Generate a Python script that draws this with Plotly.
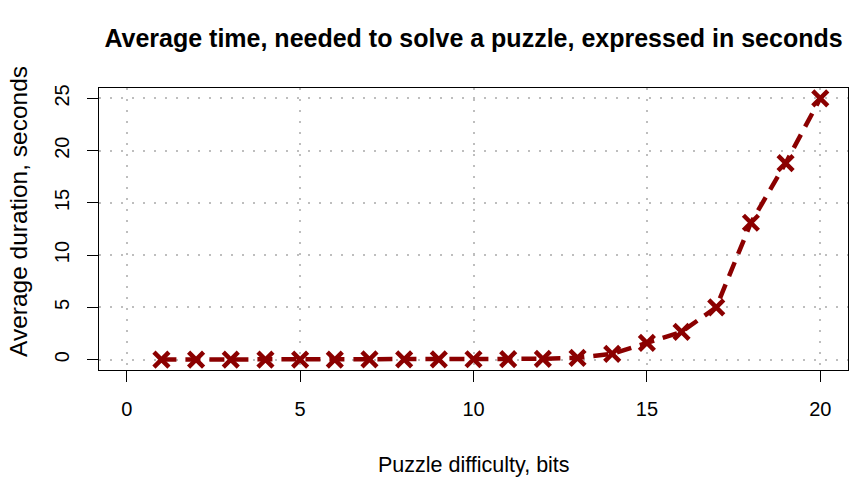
import plotly.graph_objects as go

difficulty_bits = list(range(1, 21))
avg_seconds = [0.0, 0.0, 0.0, 0.0, 0.0, 0.0, 0.01, 0.01, 0.02, 0.03,
               0.04, 0.07, 0.16, 0.55, 1.6, 2.65, 5.0, 13.1, 18.8, 25.0]
x_ticks = [0, 5, 10, 15, 20]
y_ticks = [0, 5, 10, 15, 20, 25]

title_text = "Average time, needed to solve a puzzle, expressed in seconds"
x_title = "Puzzle difficulty, bits"
y_title = "Average duration, seconds"

col = "#8B0000"
font = "Liberation Sans, Arial, Helvetica, sans-serif"

# plot area in pixels
L, R, T, B = 99, 848, 88, 370
W, H = 850, 500
pw, ph = R - L, B - T

fig = go.Figure()
fig.add_trace(go.Scatter(
    x=difficulty_bits, y=avg_seconds, mode="lines+markers",
    line=dict(color=col, width=4.5, dash="15px,9px"),
    marker=dict(symbol="x-thin", size=15, color=col,
                line=dict(color=col, width=4.5)),
    showlegend=False, cliponaxis=False,
))

axis_common = dict(
    showline=True, linecolor="black", linewidth=1.2, mirror=True,
    ticks="outside", ticklen=11, tickwidth=1.2, tickcolor="black",
    showgrid=True, gridcolor="#BEBEBE", gridwidth=2, griddash="2px,9px",
    zeroline=False, automargin=False,
    tickfont=dict(family=font, size=20, color="black"),
)

fig.update_layout(
    width=W, height=H,
    margin=dict(l=L, r=W - R, t=T, b=H - B, autoexpand=False),
    paper_bgcolor="white", plot_bgcolor="white",
    font=dict(family=font, color="black"),
    title=dict(text="<b>" + title_text + "</b>", x=0.5, xref="paper",
               xanchor="center", y=1 - 38 / H, yref="container",
               yanchor="middle", font=dict(size=25, family=font, color="black")),
    xaxis=dict(range=[-0.8, 20.8], tickvals=x_ticks, ticklabelstandoff=10,
               **axis_common),
    yaxis=dict(range=[-1, 26], tickvals=y_ticks, tickangle=-90, ticklabelstandoff=10,
               **axis_common),
    annotations=[
        dict(text=x_title, xref="paper", yref="paper", x=0.5, y=(B - 465) / ph,
             xanchor="center", yanchor="middle", showarrow=False,
             font=dict(size=21.5, family=font, color="black")),
        dict(text=y_title, xref="paper", yref="paper", x=(18 - L) / pw, y=(B - 212) / ph,
             xanchor="center", yanchor="middle", showarrow=False, textangle=-90,
             font=dict(size=24.5, family=font, color="black")),
    ],
)

fig.write_html("out.html", config={"displayModeBar": False},
               post_script="document.body.style.margin='0';")
